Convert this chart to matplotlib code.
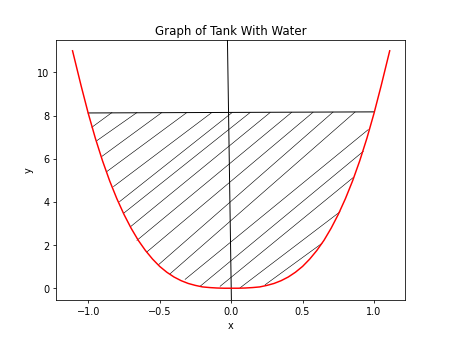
import matplotlib
matplotlib.use('Agg')
import matplotlib.pyplot as plt
import numpy as np

# tank wall
tank_x = [-1.11, -1.05, -1.0, -0.95, -0.9, -0.85, -0.8, -0.75, -0.7, -0.65, -0.6, -0.55,
          -0.5, -0.45, -0.4, -0.35, -0.3, -0.25, -0.2, -0.15, -0.1, -0.05, 0.0,
          0.05, 0.1, 0.15, 0.2, 0.25, 0.3, 0.35, 0.4, 0.45, 0.5, 0.55, 0.6, 0.65,
          0.7, 0.75, 0.8, 0.85, 0.9, 0.95, 1.0, 1.05, 1.11]
tank_y = [11.0, 9.38, 8.1, 6.94, 5.90, 4.97, 4.15, 3.42, 2.78, 2.22, 1.75, 1.35,
          1.01, 0.74, 0.52, 0.35, 0.22, 0.13, 0.06, 0.03, 0.01, 0.0, 0.0,
          0.0, 0.01, 0.03, 0.06, 0.13, 0.22, 0.35, 0.52, 0.74, 1.01, 1.35, 1.75, 2.22,
          2.78, 3.42, 4.15, 4.97, 5.90, 6.94, 8.1, 9.38, 11.0]

# water surface
water_x = [-1.0, 1.0]
water_y = [8.12, 8.17]

# near-vertical centre line
centre_x = [-0.026, 0.002]
centre_y = [11.6, -0.6]

# hatch lines: start (lower left) and end (upper right)
hatch_x0 = [-0.974, -0.939, -0.904, -0.869, -0.823, -0.781, -0.753, -0.706, -0.659,
            -0.590, -0.508, -0.427, -0.322, -0.217, -0.077, 0.063, 0.238]
hatch_y0 = [7.46, 6.84, 6.11, 5.41, 4.71, 4.01, 3.47, 2.84, 2.22,
            1.68, 1.09, 0.67, 0.41, 0.09, 0.09, 0.02, 0.16]
hatch_x1 = [-0.834, -0.659, -0.485, -0.310, -0.135, 0.007, 0.133, 0.273, 0.424,
            0.573, 0.713, 0.867, 0.960, 0.925, 0.855, 0.762, 0.636]
hatch_y1 = [8.14, 8.14, 8.14, 8.14, 8.14, 8.14, 8.14, 8.14, 8.15,
            8.15, 8.16, 8.16, 7.35, 6.34, 5.13, 3.54, 2.08]

fig, ax = plt.subplots(figsize=(6.4, 4.8))
ax.plot(tank_x, tank_y, color='red', zorder=3)
ax.plot(water_x, water_y, color='black', linewidth=1)
for x0, y0, x1, y1 in zip(hatch_x0, hatch_y0, hatch_x1, hatch_y1):
    ax.plot([x0, x1], [y0, y1], color='black', linewidth=0.6)
ax.plot(centre_x, centre_y, color='black', linewidth=1)

ax.set_xlim(-1.224, 1.217)
ax.set_ylim(-0.54, 11.5)
ax.set_title('Graph of Tank With Water')
ax.set_xlabel('x')
ax.set_ylabel('y')
fig.savefig('out.png', dpi=450 / 6.4)
